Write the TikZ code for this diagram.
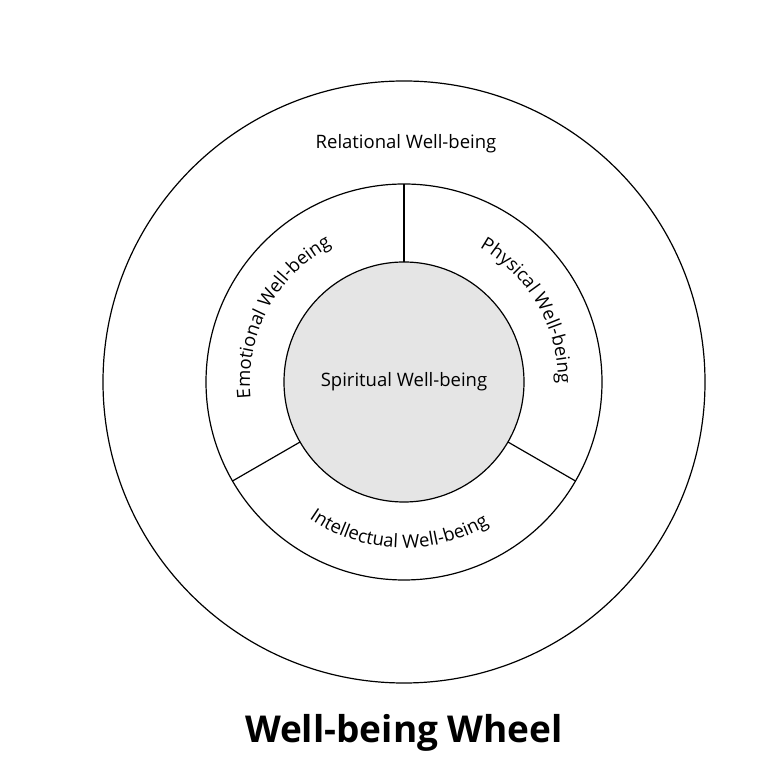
\documentclass[tikz,border=0pt]{standalone}
\usepackage{fontspec}
\setmainfont{Open Sans}
\usetikzlibrary{decorations.text,calc}
\begin{document}
\begin{tikzpicture}[x=1pt,y=1pt,
  ring/.style={draw=black,line width=1.2pt},
  lbl/.style={font=\fontsize{18.5}{22}\selectfont},
  arclbl/.style={decorate,decoration={text along path,text align=center,
    text={|\fontsize{18.5}{22}\selectfont|#1}}}]
\useasboundingbox (0,0) rectangle (768,768);
\coordinate (c) at (404,386);
\draw[ring] (c) circle (301);
\draw[ring] (c) circle (198);
\draw[ring,fill=gray!20] (c) circle (120);
\draw[ring] ($(c)+(90:120)$) -- ($(c)+(90:198)$);
\draw[ring] ($(c)+(210:120)$) -- ($(c)+(210:198)$);
\draw[ring] ($(c)+(330:120)$) -- ($(c)+(330:198)$);
\node[lbl] (rel) at (406,624) {Relational Well-being};
\node[lbl] (spi) at (404,386) {Spiritual Well-being};
\path[arclbl={Emotional Well-being}] ($(c)+(212:154)$) arc[start angle=212,end angle=92,radius=154];
\path[arclbl={Physical Well-being}] ($(c)+(92:154)$) arc[start angle=92,end angle=-32,radius=154];
\path[arclbl={Intellectual Well-being}] ($(c)+(205:166)$) arc[start angle=205,end angle=331,radius=166];
\node[font=\fontsize{37}{44}\selectfont\bfseries] (title) at (404,35) {Well-being Wheel};
\end{tikzpicture}
\end{document}
